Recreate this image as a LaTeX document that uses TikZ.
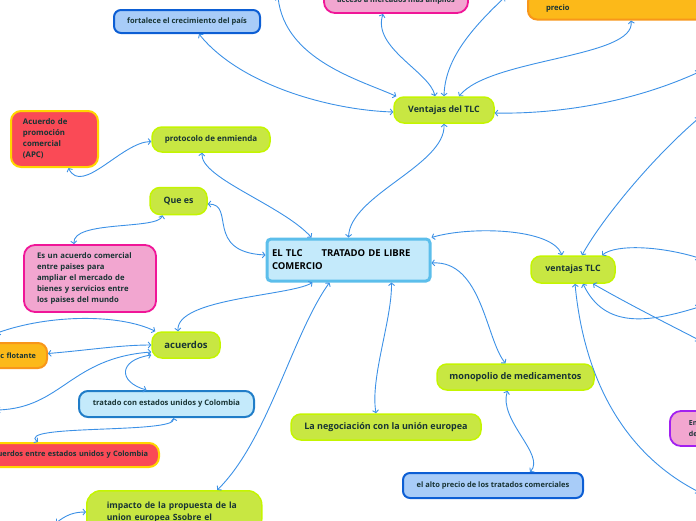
\documentclass[tikz,border=0pt]{standalone}
\usepackage{fontspec}
\setmainfont{Open Sans}
\usetikzlibrary{arrows.meta,positioning}

\definecolor{verdeF}{RGB}{200,231,66}
\definecolor{verdeB}{RGB}{196,245,0}
\definecolor{azzF}{RGB}{168,204,248}
\definecolor{azzB}{RGB}{12,94,212}
\definecolor{celF}{RGB}{196,234,251}
\definecolor{celB}{RGB}{92,190,235}
\definecolor{trattB}{RGB}{32,125,200}
\definecolor{rosaF}{RGB}{242,166,208}
\definecolor{rosaB}{RGB}{240,22,152}
\definecolor{rossoF}{RGB}{250,74,86}
\definecolor{rossoB}{RGB}{255,214,0}
\definecolor{aranF}{RGB}{252,185,25}
\definecolor{aranB}{RGB}{248,150,26}
\definecolor{violaB}{RGB}{162,32,240}
\definecolor{linea}{RGB}{60,145,230}
\definecolor{testo}{RGB}{24,52,52}

\tikzset{
  nodo/.style={rectangle, inner sep=0pt, text=testo, font=\bfseries\fontsize{8.8}{10}\selectfont},
  verde/.style={nodo, fill=verdeF, draw=verdeB, line width=1.5pt, rounded corners=10pt},
  azzurro/.style={nodo, fill=azzF, draw=azzB, line width=2pt, rounded corners=7pt},
  celeste/.style={nodo, fill=celF, draw=trattB, line width=2pt, rounded corners=9pt},
  rosa/.style={nodo, fill=rosaF, draw=rosaB, line width=1.8pt, rounded corners=11pt},
  rosso/.style={nodo, fill=rossoF, draw=rossoB, line width=2pt, rounded corners=10pt},
  arancio/.style={nodo, fill=aranF, draw=aranB, line width=2pt, rounded corners=9pt},
  legame/.style={draw=linea, line width=0.9pt, >={Straight Barb[length=2.5pt,width=6pt]}, <->},
}

\begin{document}
\begin{tikzpicture}[x=1pt,y=-1pt]
    \useasboundingbox (0,0) rectangle (696,520);
    \clip (0,0) rectangle (696,520);

    %nodo centrale
    \node[nodo, fill=celF, draw=celB, line width=3pt, rounded corners=4pt, text=black, minimum width=163, minimum height=42, text width=153, inner xsep=5, align=left, font=\bfseries\fontsize{9.5}{13}\selectfont] (tlc) at (348.5,260) {EL TLC\hspace{19pt}TRATADO DE LIBRE\\COMERCIO};

    %in alto
    \node[azzurro, minimum width=146, minimum height=23, font=\bfseries\fontsize{7.5}{9}\selectfont] (fortalece) at (187,21.5) {fortalece el crecimiento del país};
    \node[rosa, minimum width=144, minimum height=24, font=\bfseries\fontsize{7.4}{9}\selectfont] (acceso) at (396,1) {acceso a mercados mas amplios};
    \node[arancio, anchor=south west, minimum width=240, text width=204, inner xsep=18, inner ysep=7, align=left, font=\bfseries\fontsize{7.6}{11}\selectfont] (precio) at (527,20.5) {\mbox{}\\precio};
    \node[verde, minimum width=100, minimum height=26] (ventajasdel) at (444,110) {Ventajas del TLC};

    %a sinistra
    \node[rosso, minimum width=87, minimum height=56, text width=63, inner xsep=12, align=left, font=\bfseries\fontsize{7.8}{11}\selectfont] (apc) at (54.5,139) {Acuerdo de\\promoción\\comercial\\(APC)};
    \node[verde, minimum width=118, minimum height=25, font=\bfseries\fontsize{8}{9}\selectfont] (protocolo) at (211,139.5) {protocolo de enmienda};
    \node[verde, minimum width=57, minimum height=27] (quees) at (178.5,201) {Que es};
    \node[rosa, minimum width=132, minimum height=67, text width=106, inner xsep=13, align=left, font=\bfseries\fontsize{7.7}{11}\selectfont] (esun) at (90,278.5) {Es un acuerdo comercial\\entre paises para\\ampliar el mercado de\\bienes y servicios entre\\los paises del mundo};

    %acuerdos
    \node[verde, minimum width=68, minimum height=26, font=\bfseries\fontsize{9.5}{10}\selectfont] (acuerdos) at (186,345) {acuerdos};
    \node[arancio, anchor=east, minimum height=25, text width=90, inner xsep=11, align=right, font=\bfseries\fontsize{7.3}{9}\selectfont] (flotante) at (48,355.5) {c flotante};
    \node[celeste, minimum width=175, minimum height=26, font=\bfseries\fontsize{7.6}{9}\selectfont] (tratado) at (166.5,404) {tratado con estados unidos y Colombia};
    \node[rosso, anchor=east, minimum height=24, text width=200, inner xsep=11, align=right, font=\bfseries\fontsize{7.4}{9}\selectfont] (eeuu) at (160,455) {acuerdos entre estados unidos y Colombia};
    \node[verde, anchor=north west, rounded corners=14pt, text width=135, inner xsep=20, inner ysep=11, align=left, font=\bfseries\fontsize{8.6}{12}\selectfont] (impacto) at (86,490) {impacto de la propuesta de la\\union europea Ssobre el};

    %in basso
    \node[verde, minimum width=190, minimum height=26, font=\bfseries\fontsize{9}{10}\selectfont] (negociacion) at (386,427) {La negociación con la unión europea};
    \node[verde, minimum width=157, minimum height=26, font=\bfseries\fontsize{9.1}{10}\selectfont] (monopolio) at (515.5,377) {monopolio de medicamentos};
    \node[azzurro, minimum width=180, minimum height=25, font=\bfseries\fontsize{7.5}{9}\selectfont] (altoprecio) at (493,485.5) {el alto precio de los tratados comerciales};

    %a destra
    \node[verde, minimum width=84, minimum height=27] (ventajastlc) at (573,269.5) {ventajas TLC};
    \node[rosa, draw=violaB, anchor=west, minimum height=35, text width=70, inner xsep=19, align=left, font=\bfseries\fontsize{7}{11}\selectfont] (en) at (669,428.5) {En\\de};

    %estremi liberi
    \coordinate (libero1) at (278,-3);
    \coordinate (libero2) at (505,-3);
    \coordinate (libero3) at (699,72);
    \coordinate (libero4) at (699,118);
    \coordinate (libero5) at (699,258);
    \coordinate (libero6) at (699,307);
    \coordinate (libero7) at (699,340);
    \coordinate (libero8) at (699,492);
    \coordinate (libero9) at (-3,333);
    \coordinate (libero10) at (-3,410);
    \coordinate (libero11) at (56,523);

    %collegamenti del nodo centrale
    \draw[legame] (ventajasdel.south) .. controls (446,165) and (350,195) .. (tlc.north);
    \draw[legame] ([xshift=-9]protocolo.south) .. controls (200,178) and (282,205) .. ([xshift=-37]tlc.north);
    \draw[legame] ([yshift=-3]quees.east) .. controls (236,204) and (204,252) .. ([yshift=5]tlc.west);
    \draw[legame] ([xshift=-36]tlc.south) .. controls (290,296) and (176,298) .. ([xshift=-8]acuerdos.north);
    \draw[legame] ([xshift=-19]tlc.south) .. controls (292,335) and (268,440) .. ([xshift=43]impacto.north);
    \draw[legame] ([xshift=43]tlc.south) .. controls (392,320) and (370,378) .. ([xshift=-10]negociacion.north);
    \draw[legame] ([yshift=-3]tlc.east) .. controls (482,260) and (486,340) .. ([xshift=-10]monopolio.north);
    \draw[legame] (tlc.north east) .. controls (470,226) and (552,228) .. ([xshift=-11]ventajastlc.north);

    %collegamenti a sinistra
    \draw[legame] ([yshift=-2]protocolo.west) .. controls (122,142) and (82,196) .. ([xshift=14]apc.south);
    \draw[legame] ([xshift=-16]quees.south) .. controls (158,230) and (72,220) .. ([xshift=-16]esun.north);
    \draw[legame] (libero9) .. controls (50,314) and (120,314) .. ([xshift=4]acuerdos.north west);
    \draw[legame] ([yshift=2]flotante.east) .. controls (90,350) and (120,345) .. (acuerdos.west);
    \draw[legame] (libero10) .. controls (62,408) and (70,358) .. ([yshift=-7]acuerdos.west);
    \draw[legame] ([yshift=-10]acuerdos.west) .. controls (118,360) and (118,382) .. ([xshift=-20]tratado.north);
    \draw[legame] ([xshift=7]tratado.south) .. controls (176,434) and (14,424) .. ([xshift=-122]eeuu.north east);
    \draw[legame] (libero11) .. controls (66,515) and (74,512) .. ([yshift=-22]impacto.north west);

    %collegamenti in basso
    \draw[legame] ([xshift=-8]monopolio.south) .. controls (498,420) and (546,455) .. ([xshift=37]altoprecio.north);

    %collegamenti in alto
    \draw[legame] ([xshift=12]fortalece.south) .. controls (240,85) and (330,110) .. ([yshift=-2]ventajasdel.west);
    \draw[legame] (libero1) .. controls (285,60) and (360,80) .. ([xshift=3]ventajasdel.north west);
    \draw[legame] ([xshift=-13]acceso.south) .. controls (372,48) and (430,72) .. ([xshift=-9]ventajasdel.north);
    \draw[legame] (libero2) .. controls (470,30) and (445,60) .. (ventajasdel.north);
    \draw[legame] ([xshift=104]precio.south west) .. controls (636,58) and (490,58) .. ([xshift=15]ventajasdel.north);
    \draw[legame] (libero3) .. controls (620,108) and (540,114) .. ([yshift=-3]ventajasdel.east);

    %collegamenti a destra
    \draw[legame] (libero4) .. controls (650,160) and (600,222) .. ([xshift=9]ventajastlc.north);
    \draw[legame] (libero5) .. controls (660,246) and (616,244) .. ([xshift=29]ventajastlc.north);
    \draw[legame] ([xshift=2]ventajastlc.south) .. controls (586,400) and (640,462) .. (libero8);
    \draw[legame] ([xshift=10]ventajastlc.south) .. controls (605,330) and (650,322) .. (libero6);
    \draw[legame] ([xshift=20]ventajastlc.south) .. controls (630,305) and (670,325) .. (libero7);
\end{tikzpicture}
\end{document}
